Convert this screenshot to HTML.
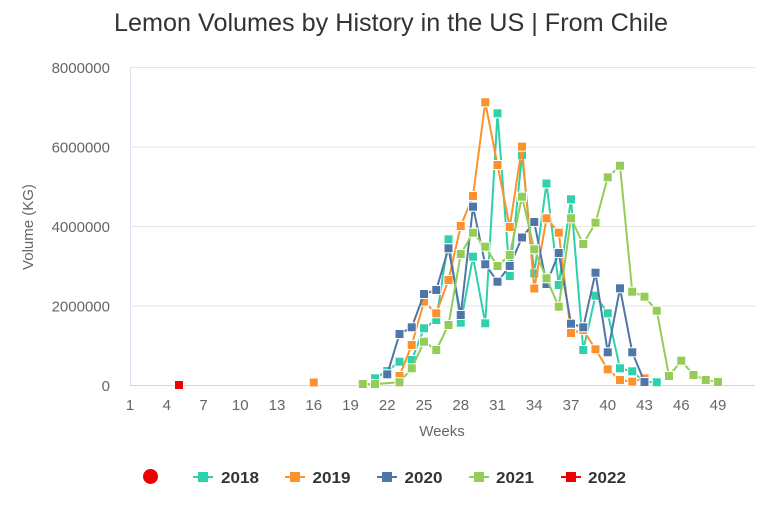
<!DOCTYPE html>
<html><head><meta charset="utf-8"><style>
html,body{margin:0;padding:0;background:#fff;}
svg{display:block;font-family:"Liberation Sans",sans-serif;}
</style></head><body>
<svg width="768" height="512" viewBox="0 0 768 512" xmlns="http://www.w3.org/2000/svg">
<defs>
<marker id="mt" markerWidth="12" markerHeight="12" refX="5" refY="5" markerUnits="userSpaceOnUse" overflow="visible"><rect x="0.5" y="0.5" width="9" height="9" fill="#2fd0ac" stroke="#fff" stroke-width="1"/></marker>
<marker id="mo" markerWidth="12" markerHeight="12" refX="5" refY="5" markerUnits="userSpaceOnUse" overflow="visible"><rect x="0.5" y="0.5" width="9" height="9" fill="#fd922c" stroke="#fff" stroke-width="1"/></marker>
<marker id="mb" markerWidth="12" markerHeight="12" refX="5" refY="5" markerUnits="userSpaceOnUse" overflow="visible"><rect x="0.5" y="0.5" width="9" height="9" fill="#4f76a8" stroke="#fff" stroke-width="1"/></marker>
<marker id="mg" markerWidth="12" markerHeight="12" refX="5" refY="5" markerUnits="userSpaceOnUse" overflow="visible"><rect x="0.5" y="0.5" width="9" height="9" fill="#93cc56" stroke="#fff" stroke-width="1"/></marker>
</defs>

<text x="391" y="31" text-anchor="middle" font-size="25" fill="#333" textLength="554" lengthAdjust="spacingAndGlyphs">Lemon Volumes by History in the US | From Chile</text>

<g stroke="#e6e6e6" stroke-width="1">
<line x1="130" y1="67.5" x2="755" y2="67.5"/>
<line x1="130" y1="147" x2="755" y2="147"/>
<line x1="130" y1="226.5" x2="755" y2="226.5"/>
<line x1="130" y1="306" x2="755" y2="306"/>
</g>
<line x1="130.5" y1="67" x2="130.5" y2="385" stroke="#dde3f0" stroke-width="1"/>
<line x1="130" y1="385.5" x2="755" y2="385.5" stroke="#ccd6eb" stroke-width="1"/>

<g font-size="15" fill="#666" text-anchor="end">
<text x="110" y="73">8000000</text>
<text x="110" y="152.5">6000000</text>
<text x="110" y="232">4000000</text>
<text x="110" y="311.5">2000000</text>
<text x="110" y="391">0</text>
</g>
<text transform="translate(33,227) rotate(-90)" text-anchor="middle" font-size="15" fill="#666">Volume (KG)</text>

<g font-size="15" fill="#666" text-anchor="middle">
<text x="130" y="410">1</text>
<text x="166.75" y="410">4</text>
<text x="203.5" y="410">7</text>
<text x="240.25" y="410">10</text>
<text x="277" y="410">13</text>
<text x="313.75" y="410">16</text>
<text x="350.5" y="410">19</text>
<text x="387.25" y="410">22</text>
<text x="424" y="410">25</text>
<text x="460.75" y="410">28</text>
<text x="497.5" y="410">31</text>
<text x="534.25" y="410">34</text>
<text x="571" y="410">37</text>
<text x="607.75" y="410">40</text>
<text x="644.5" y="410">43</text>
<text x="681.25" y="410">46</text>
<text x="718" y="410">49</text>
</g>
<text x="442" y="436" text-anchor="middle" font-size="15" fill="#666">Weeks</text>

<!-- 2018 -->
<polyline fill="none" stroke="#2fd0ac" stroke-width="2" stroke-linejoin="round" marker-start="url(#mt)" marker-mid="url(#mt)" marker-end="url(#mt)" points="375,378.3 387.25,371 399.5,361.7 411.75,360 424,328.3 436.25,320 448.5,239.3 460.75,322.7 473,256.7 485.25,323.3 497.5,113.3 509.75,276 522,155 534.25,273.3 546.5,183.5 558.75,285 571,199.3 583.25,350 595.5,295.7 607.75,313.3 620,368.3 632.25,371.3 644.5,382 656.75,382.3"/>
<!-- 2019 -->
<rect x="309.25" y="378" width="9" height="9" fill="#fd922c" stroke="#fff" stroke-width="1"/>
<polyline fill="none" stroke="#fd922c" stroke-width="2" stroke-linejoin="round" marker-start="url(#mo)" marker-mid="url(#mo)" marker-end="url(#mo)" points="399.5,376 411.75,345 424,301.7 436.25,313.3 448.5,280 460.75,226 473,196 485.25,102.3 497.5,165 509.75,227 522,146.7 534.25,288.5 546.5,218.3 558.75,232.7 571,333 583.25,330 595.5,349.3 607.75,369.3 620,380 632.25,381.7 644.5,378.3"/>
<!-- 2020 -->
<polyline fill="none" stroke="#4f76a8" stroke-width="2" stroke-linejoin="round" marker-start="url(#mb)" marker-mid="url(#mb)" marker-end="url(#mb)" points="387.25,374.3 399.5,334 411.75,327.3 424,294 436.25,290 448.5,248.3 460.75,315 473,206.7 485.25,264.3 497.5,281.7 509.75,266 522,237.5 534.25,222 546.5,284 558.75,253 571,323.7 583.25,327.3 595.5,272.7 607.75,352.3 620,288.3 632.25,352.3 644.5,382"/>
<!-- 2021 -->
<polyline fill="none" stroke="#93cc56" stroke-width="2" stroke-linejoin="round" marker-start="url(#mg)" marker-mid="url(#mg)" marker-end="url(#mg)" points="362.75,384 375,384 399.5,382.3 411.75,368.3 424,341.7 436.25,350 448.5,325 460.75,254 473,232.7 485.25,246.7 497.5,266 509.75,255 522,196.7 534.25,249.3 546.5,278.3 558.75,306.7 571,218.3 583.25,244 595.5,222.7 607.75,177.3 620,165.7 632.25,291.7 644.5,296.7 656.75,310.7 669,376 681.25,360.7 693.5,375 705.75,380 718,382"/>
<!-- 2022 -->
<rect x="174.5" y="380.5" width="9" height="9" fill="#ee0000" stroke="#fff" stroke-width="1"/>

<!-- Legend -->
<circle cx="150.5" cy="476.5" r="7.5" fill="#ee0000"/>
<g font-size="16" font-weight="bold" fill="#333">
<line x1="193" y1="477" x2="213" y2="477" stroke="#2fd0ac" stroke-width="2"/>
<rect x="198" y="472" width="10" height="10" fill="#2fd0ac"/>
<text x="221" y="483" textLength="38" lengthAdjust="spacingAndGlyphs">2018</text>
<line x1="285" y1="477" x2="305" y2="477" stroke="#fd922c" stroke-width="2"/>
<rect x="290" y="472" width="10" height="10" fill="#fd922c"/>
<text x="312.5" y="483" textLength="38" lengthAdjust="spacingAndGlyphs">2019</text>
<line x1="377" y1="477" x2="397" y2="477" stroke="#4f76a8" stroke-width="2"/>
<rect x="382" y="472" width="10" height="10" fill="#4f76a8"/>
<text x="404.5" y="483" textLength="38" lengthAdjust="spacingAndGlyphs">2020</text>
<line x1="469" y1="477" x2="489" y2="477" stroke="#93cc56" stroke-width="2"/>
<rect x="474" y="472" width="10" height="10" fill="#93cc56"/>
<text x="496" y="483" textLength="38" lengthAdjust="spacingAndGlyphs">2021</text>
<line x1="561" y1="477" x2="581" y2="477" stroke="#ee0000" stroke-width="2"/>
<rect x="566" y="472" width="10" height="10" fill="#ee0000"/>
<text x="588" y="483" textLength="38" lengthAdjust="spacingAndGlyphs">2022</text>
</g>
</svg>
</body></html>
